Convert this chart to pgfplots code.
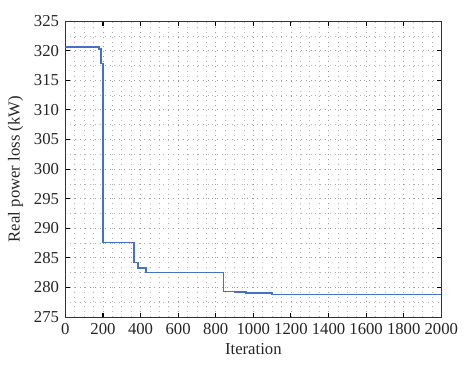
\documentclass[border=0pt]{standalone}
\usepackage{fontspec}
\setmainfont{Liberation Serif}
\usepackage{pgfplots}
\pgfplotsset{compat=1.18}
\definecolor{lineblue}{RGB}{70,114,196}
\begin{document}
\begin{tikzpicture}
\useasboundingbox (-36pt,-30.2pt) rectangle (225pt,174.6pt);
\begin{axis}[
  at={(0,0)}, anchor=south west,
  scale only axis, width=207pt, height=163pt,
  xmin=0, xmax=2000, ymin=275, ymax=325,
  xtick={0,200,...,2000}, ytick={275,280,...,325},
  minor x tick num=3, minor y tick num=1,
  grid=both,
  major grid style={dash pattern=on 0.5pt off 2.2pt, gray!75, line width=0.45pt},
  minor grid style={dash pattern=on 0.5pt off 2.2pt, gray!60, line width=0.4pt},
  tick style={black, line width=0.6pt},
  minor tick length=0pt,
  major tick length=2.5pt,
  tick align=inside,
  axis line style={black!80, line width=0.6pt},
  /pgf/number format/assume math mode=true,
  /pgf/number format/1000 sep={},
  tick label style={font=\fontsize{9.2}{11}\selectfont, text=black!85},
  label style={font=\fontsize{9.2}{11}\selectfont, text=black!85},
  xlabel={Iteration}, ylabel={Real power loss (kW)},
  xlabel style={yshift=2pt},
  ylabel style={yshift=-1pt},
]
\addplot[lineblue, line width=0.85pt, const plot] coordinates {
(0,320.6) (178,320.3) (190,317.8) (200,287.6) (365,284.2) (385,283.3) (430,282.5) (840,279.3) (900,279.2) (960,279.1) (1100,278.8) (2000,278.8)
};
\end{axis}
\end{tikzpicture}
\end{document}
